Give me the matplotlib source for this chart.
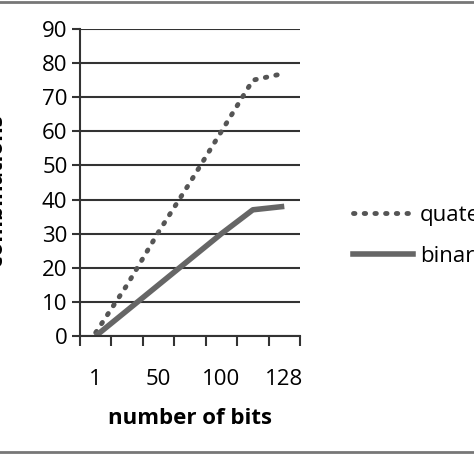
import matplotlib
matplotlib.use("Agg")
import matplotlib.pyplot as plt
from matplotlib.lines import Line2D

categories = ["1", "", "50", "", "100", "", "128"]
quaternary = [1, 15, 30.5, 45, 60, 75, 77]
binary = [0, 7.5, 15, 22.5, 30, 37, 38]

plt.rcParams['font.family'] = ['Open Sans', 'DejaVu Sans']
fig = plt.figure(figsize=(4.74, 4.74), dpi=100)
ax = fig.add_axes([80/474, 1-336/474, 220/474, 307/474])
x = list(range(len(categories)))
dots = (0, (0.3, 1.9))
ax.plot(x, quaternary, color='#555555', lw=3.5, linestyle=dots, dash_capstyle='round', label='quaternary')
ax.plot(x, binary, color='#666666', lw=4, solid_capstyle='butt', label='binary')
ax.set_xlim(-0.5, 6.5)
ax.set_ylim(0, 90)
ax.set_yticks(range(0, 91, 10))
ax.yaxis.grid(True, color='#333333', lw=1.5)
ax.set_axisbelow(True)
ax.set_xticks([i - 0.5 for i in range(8)], minor=False)
ax.set_xticklabels([])
ax.set_xticks(x, minor=True)
ax.set_xticklabels(categories, minor=True)
ax.tick_params(axis='x', which='major', length=7, width=1.5, color='#333333', direction='out')
ax.tick_params(axis='x', which='minor', length=0, pad=24, labelsize=16)
ax.tick_params(axis='y', length=6, width=1.5, color='#333333', labelsize=16, pad=3)
for s in ['top', 'right']:
    ax.spines[s].set_visible(False)
ax.spines['left'].set_color('#333333'); ax.spines['left'].set_linewidth(1.5)
ax.spines['bottom'].set_color('#333333'); ax.spines['bottom'].set_linewidth(1.5)
fig.text(190/474, 1-418/474, 'number of bits', ha='center', va='center', fontsize=16, fontweight='bold')
fig.text(-3/474, 1-190/474, 'combinations', ha='center', va='center', rotation=90, fontsize=16, fontweight='bold')
handles = [Line2D([], [], color='#555555', lw=3.5, linestyle=dots, dash_capstyle='round'),
           Line2D([], [], color='#666666', lw=4)]
fig.legend(handles, ['quaternary', 'binary'], loc='center left', bbox_to_anchor=(333/474, 1-236/474),
           frameon=False, fontsize=16, handlelength=2.7, labelspacing=0.9, handletextpad=0.3)
fig.add_artist(Line2D([0, 1], [1-2/474, 1-2/474], color='#777777', lw=2))
fig.add_artist(Line2D([0, 1], [1-452/474, 1-452/474], color='#777777', lw=2))
fig.savefig('out.png', dpi=100)
